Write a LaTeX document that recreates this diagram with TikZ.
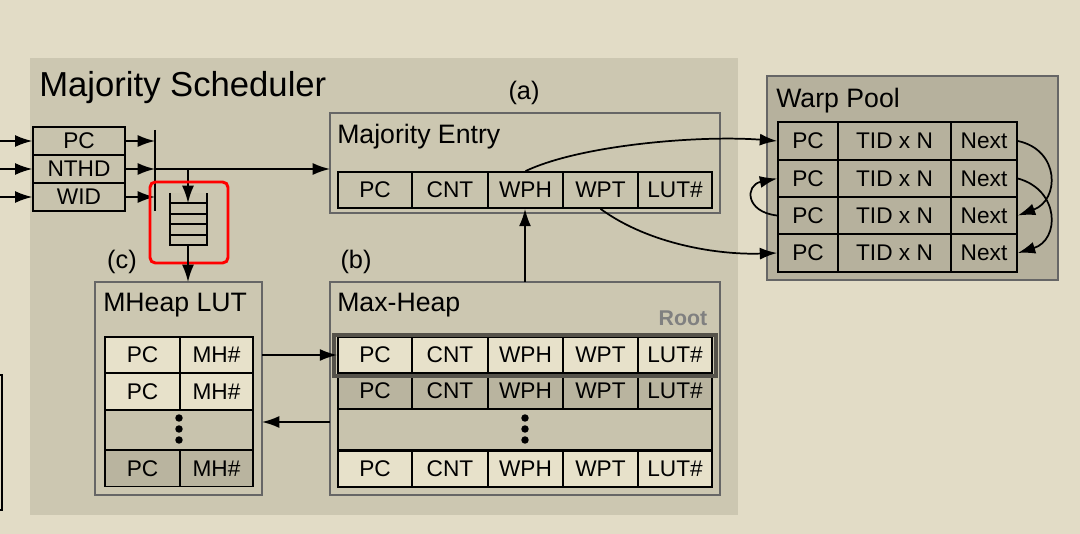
\documentclass[tikz,border=0pt]{standalone}
\usepackage{fontspec}
\setmainfont{Liberation Sans}
\usetikzlibrary{arrows.meta}
\definecolor{bgA}{HTML}{E2DCC6}
\definecolor{bgB}{HTML}{CCC7B1}
\definecolor{wp}{HTML}{B6B19D}
\definecolor{lt}{HTML}{E7E1CA}
\definecolor{md}{HTML}{C8C3AD}
\definecolor{dk}{HTML}{B9B49F}
\definecolor{rootc}{HTML}{55524A}
\begin{document}
\begin{tikzpicture}[x=0.75pt,y=-0.75pt,
  cell/.style={draw=black,line width=1.3pt,inner sep=0pt,font=\fontsize{17}{17}\selectfont,anchor=center},
  box/.style={draw=black!60,line width=0.8pt},
  ttl/.style={anchor=west,inner sep=0pt,font=\fontsize{20}{20}\selectfont},
  arr/.style={-{Latex[length=13pt,width=9pt]},line width=1.3pt},
  lab/.style={inner sep=0pt,font=\fontsize{19}{19}\selectfont}]
\useasboundingbox (0,0) rectangle (1080,534);
\fill[bgA] (0,0) rectangle (1080,534);
\fill[bgB] (30,58) rectangle (738,515);
\draw[line width=0.8pt] (-10,375) rectangle (2,510);
\node[ttl,font=\fontsize{26}{26}\selectfont] (ms) at (39,88) {Majority Scheduler};
% input regs
\node[cell,fill=md,line width=1pt,minimum width=69pt,minimum height=21pt] (inpc) at (79,141) {PC};
\node[cell,fill=md,line width=1pt,minimum width=69pt,minimum height=21pt] (innt) at (79,169) {NTHD};
\node[cell,fill=md,line width=1pt,minimum width=69pt,minimum height=21pt] (inwi) at (79,197) {WID};
\coordinate (s1) at (0,141);\coordinate (s2) at (0,169);\coordinate (s3) at (0,197);
\draw[arr] (s1) -- (inpc.west);\draw[arr] (s2) -- (innt.west);\draw[arr] (s3) -- (inwi.west);
\coordinate (b1) at (155,141);\coordinate (b2) at (155,169);\coordinate (b3) at (155,197);
\draw[arr] (inpc.east) -- (b1);\draw[arr] (innt.east) -- (b2);\draw[arr] (inwi.east) -- (b3);
\coordinate (bt) at (155,130);\coordinate (bb) at (155,211);
\draw[line width=1.2pt] (bt) -- (bb);
% queue
\coordinate (qt) at (188,193);\coordinate (qb) at (188,245);\coordinate (br) at (188,169);
\fill[md] (170,193) rectangle (207,245);
\draw[line width=1pt] (170,193) -- (170,245) -- (207,245) -- (207,193);
\foreach \y in {203,214,224,235}{\draw[line width=1pt] (170,\y) -- (207,\y);}
\draw[arr] (br) -- (188,203);
\draw[red,line width=2.2pt,rounded corners=4pt] (150,182) rectangle (228,263);
% Majority Entry
\draw[box,fill=bgB] (330,113) rectangle (720,213);
\node[ttl] at (337,137) {Majority Entry};
\node[lab] at (524,93) {(a)};
\foreach \n/\t/\a/\b in {1/PC/338/412,2/CNT/412/488,3/WPH/488/563,4/WPT/563/638,5/LUT\#/638/712}{
  \node[cell,fill=md,minimum width={(\b-\a)*0.75pt},minimum height=27pt] (e\n) at ({(\a+\b)/2},190) {\t};
}
\coordinate (mein) at (330,169);
\draw[arr] (b2) -- (mein);
% Max-Heap
\draw[box,fill=bgB] (330,282) rectangle (720,495);
\node[ttl] at (337,305) {Max-Heap};
\node[lab,text=black!50,font=\bfseries\fontsize{16}{16}\selectfont] at (683,318) {Root};
\node[lab] at (356,262) {(b)};
\foreach \r/\yc/\f in {1/355/lt,2/391/dk,4/469/lt}{
\foreach \n/\t/\a/\b in {1/PC/338/412,2/CNT/412/488,3/WPH/488/563,4/WPT/563/638,5/LUT\#/638/712}{
  \node[cell,fill=\f,minimum width={(\b-\a)*0.75pt},minimum height={36*0.75pt}] (h\r\n) at ({(\a+\b)/2},\yc) {\t};
}}
\node[cell,fill=md,minimum width={374*0.75pt},minimum height={41*0.75pt}] (h3) at (525,429.5) {};
\foreach \y in {418,429,440}{\fill (525,\y) circle (2.8pt);}
\draw[rootc,line width=3pt] (334,335) rectangle (716,376);
\coordinate (mht) at (525,282);
\draw[arr] (mht) -- (e3.south -| mht);
% MHeap LUT
\draw[box,fill=bgB] (95,282) rectangle (262,495);
\node[ttl] at (103,305) {MHeap LUT};
\node[lab] at (122,262) {(c)};
\foreach \r/\yc/\f in {1/355/lt,2/391.5/lt,4/468.5/dk}{
  \node[cell,fill=\f,minimum width={75*0.75pt},minimum height=27pt] (l\r a) at (142.5,\yc) {PC};
  \node[cell,fill=\f,minimum width={73*0.75pt},minimum height=27pt] (l\r b) at (216.5,\yc) {MH\#};
}
\node[cell,fill=md,minimum width={148*0.75pt},minimum height=30pt] (l3) at (179,430) {};
\foreach \y in {418,429,440}{\fill (179,\y) circle (2.8pt);}
\coordinate (lt) at (188,282);
\draw[arr] (qb) -- (lt);
\draw[arr] (262,355) -- (h11.west);
\draw[arr] (330,422) -- (262,422);
% Warp Pool
\draw[box,fill=wp] (767,76) rectangle (1058,280);
\node[ttl] at (776,101) {Warp Pool};
\foreach \r/\yc in {1/141,2/178.5,3/215.5,4/253}{
  \node[cell,fill=wp,minimum width={60*0.75pt},minimum height=28pt] (w\r a) at (808,\yc) {PC};
  \node[cell,fill=wp,minimum width={113*0.75pt},minimum height=28pt] (w\r b) at (894.5,\yc) {TID x N};
  \node[cell,fill=wp,minimum width={66*0.75pt},minimum height=28pt] (w\r c) at (984,\yc) {Next};
}
\draw[arr] (e3.north) .. controls (580,145) and (700,135) .. (w1a.west);
\draw[arr] (e4.south) .. controls (650,245) and (720,255) .. (w4a.west);
\draw[arr] (w1c.east) .. controls (1060,150) and (1060,200) .. (w3c.east);
\draw[arr] (w2c.east) .. controls (1060,190) and (1060,240) .. (w4c.east);
\draw[arr] (w3a.west) .. controls (745,212) and (745,185) .. (w2a.west);
\end{tikzpicture}
\end{document}
